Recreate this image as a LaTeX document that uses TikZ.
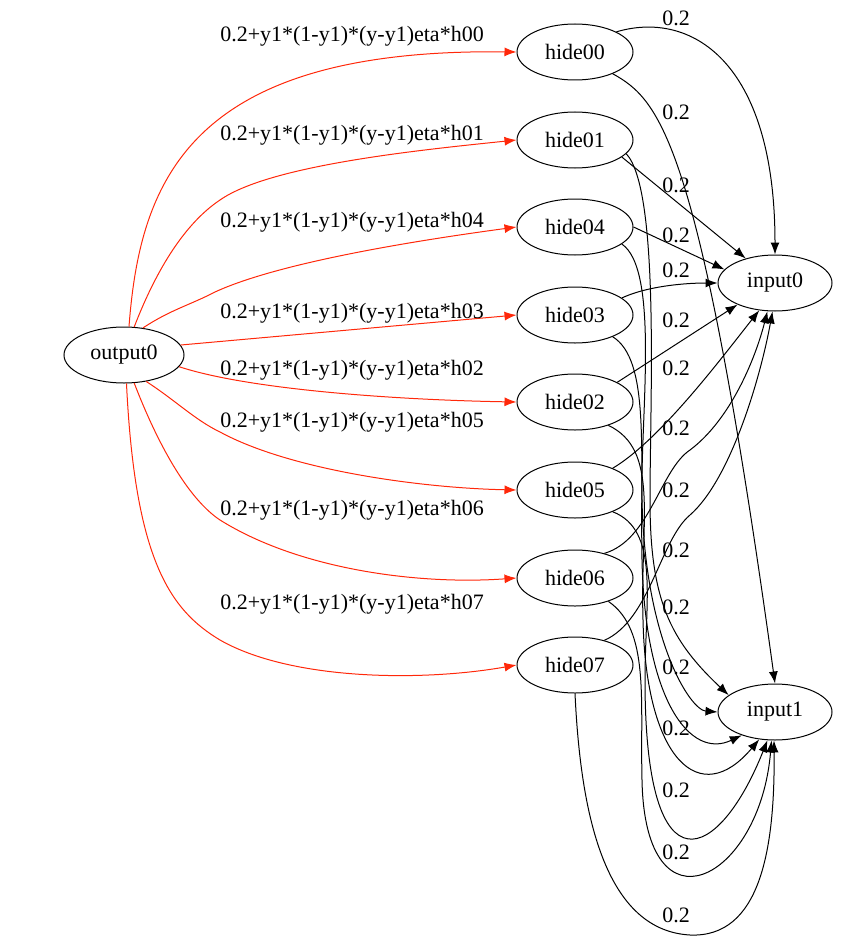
\documentclass[tikz,border=0pt]{standalone}
\usepackage{fontspec}
\setmainfont{Liberation Serif}
\usetikzlibrary{shapes.geometric,arrows.meta}
\begin{document}
\begin{tikzpicture}[x=1pt,y=-1pt,line width=1pt,
  nd/.style={ellipse,draw,minimum width=116pt,minimum height=56pt,inner sep=0pt,font=\fontsize{22}{24}\selectfont},
  r/.style={draw={rgb,255:red,255;green,40;blue,10},-{Latex[length=12pt,width=9pt]}},
  b/.style={draw=black,-{Latex[length=12pt,width=9pt]}},
  lb/.style={font=\fontsize{22}{24}\selectfont}]
\useasboundingbox (0,0) rectangle (864,939);
\node[nd,minimum width=120pt] (o) at (124,355) {output0};
\node[nd] (h00) at (575,52) {hide00};
\node[nd] (h01) at (575,140) {hide01};
\node[nd] (h04) at (575,227) {hide04};
\node[nd] (h03) at (575,315) {hide03};
\node[nd] (h02) at (575,402) {hide02};
\node[nd] (h05) at (575,490) {hide05};
\node[nd] (h06) at (575,578) {hide06};
\node[nd] (h07) at (575,665) {hide07};
\node[nd,minimum width=114pt] (i0) at (775,283) {input0};
\node[nd,minimum width=114pt] (i1) at (775,712) {input1};
% red edges
\draw[r] (o.80) .. controls (140,180) and (190,48) .. (h00.west);
\draw[r] (o.70) .. controls (160,260) and (190,220) .. (220,200) .. controls (270,165) and (420,150) .. (h01.west);
\draw[r] (o.55) .. controls (170,310) and (190,305) .. (215,292) .. controls (280,262) and (420,240) .. (h04.west);
\draw[r] (o.10) -- (h03.west);
\draw[r] (o.-12) .. controls (250,390) and (400,400) .. (h02.west);
\draw[r] (o.-50) .. controls (175,400) and (195,420) .. (220,432) .. controls (290,470) and (420,488) .. (h05.west);
\draw[r] (o.-70) .. controls (160,450) and (190,500) .. (220,520) .. controls (300,570) and (420,585) .. (h06.west);
\draw[r] (o.-85) .. controls (135,560) and (170,610) .. (220,640) .. controls (290,680) and (420,682) .. (h07.west);
\foreach \n/\y in {00/36,01/135,04/222,03/313,02/370,05/422,06/510,07/604}
  \node[lb] at (352,\y) {0.2+y1*(1-y1)*(y-y1)eta*h\n};
% to input0
\draw[b] (h00.north east) .. controls (690,10) and (775,60) .. (i0.north);
\draw[b] (h01.-20) -- (i0.140);
\draw[b] (h04.east) -- (i0.165);
\draw[b] (h03.20) .. controls (650,285) and (690,283) .. (i0.west);
\draw[b] (h02.25) -- (i0.-150);
\draw[b] (h05.30) .. controls (660,440) and (720,360) .. (i0.-120);
\draw[b] (h06.40) .. controls (650,540) and (660,470) .. (690,450) .. controls (730,420) and (755,360) .. (i0.-105);
\draw[b] (h07.40) .. controls (650,620) and (660,540) .. (690,515) .. controls (730,480) and (760,380) .. (i0.-95);
% to input1
\draw[b] (h00.-30) .. controls (660,100) and (700,140) .. (i1.north);
\draw[b] (h01.-15) .. controls (660,190) and (650,400) .. (650,500) .. controls (650,600) and (670,640) .. (i1.160);
\draw[b] (h04.-20) .. controls (660,270) and (640,420) .. (642,500) .. controls (645,640) and (690,710) .. (i1.west);
\draw[b] (h03.-30) .. controls (650,360) and (640,450) .. (642,560) .. controls (645,700) and (690,760) .. (i1.-145);
\draw[b] (h02.-35) .. controls (660,450) and (640,520) .. (643,620) .. controls (646,760) and (700,810) .. (i1.-120);
\draw[b] (h05.-30) .. controls (660,530) and (645,600) .. (645,680) .. controls (645,900) and (720,860) .. (i1.-105);
\draw[b] (h06.-35) .. controls (650,630) and (640,700) .. (642,780) .. controls (645,940) and (760,880) .. (i1.-97);
\draw[b] (h07.south) .. controls (580,800) and (600,930) .. (690,935) .. controls (760,938) and (775,850) .. (i1.-92);
\foreach \y in {18,112,185,235,270,320,368,428,490,550,607,667,728,790,852,915}
  \node[lb] at (676,\y) {0.2};
\end{tikzpicture}
\end{document}
